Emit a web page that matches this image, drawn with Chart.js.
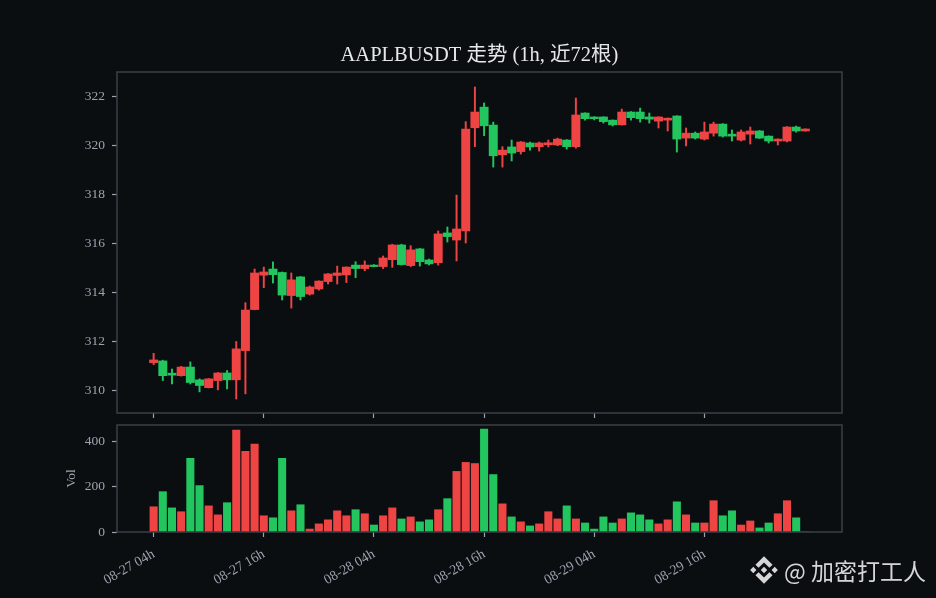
<!DOCTYPE html>
<html>
<head>
<meta charset="utf-8">
<title>AAPLBUSDT 1h</title>
<script src="https://cdn.jsdelivr.net/npm/chart.js@4.4.1/dist/chart.umd.min.js"></script>
<style>
    body { margin: 0; background: #0b0e11; width: 936px; height: 598px; overflow: hidden; position: relative; }
    #mainBox { position: absolute; left: 0; top: 0; width: 936px; height: 418px; }
    #volBox { position: absolute; left: 0; top: 418px; width: 936px; height: 180px; }
    #mark { position: absolute; left: 750px; top: 553px; height: 34px; display: flex; align-items: center;
            font-family: 'Noto Sans CJK SC', sans-serif; font-size: 23px; color: #d6d6d6; white-space: nowrap; }
    #mark svg { width: 28px; height: 28px; margin-right: 6px; }
</style>
</head>
<body>
<div id="mainBox"><canvas id="mainChart"></canvas></div>
<div id="volBox"><canvas id="volChart"></canvas></div>
<div id="mark">
    <svg viewBox="0 0 126 126"><path fill="#d6d6d6" d="M38.7 53.2L63 28.9l24.3 24.3 14.1-14.1L63 0.7 24.6 39.1zM0.7 63l14.1-14.1L28.9 63 14.8 77.1zM38.7 72.8L63 97.1l24.3-24.3 14.1 14.1L63 125.3 24.6 86.9zM97.1 63l14.1-14.1L125.3 63l-14.1 14.1zM77.3 63L63 48.7 48.7 63 63 77.3z"/></svg>
    <span>@ 加密打工人</span>
</div>
<script>
// 1h candles, first one is 08-27 04h
const opens = [311.15, 311.22, 310.72, 310.62, 310.97, 310.45, 310.13, 310.42, 310.73, 310.45,
    311.64, 313.31, 314.71, 314.96, 314.82, 313.88, 314.64, 313.94, 314.15, 314.45,
    314.70, 314.72, 315.12, 314.98, 315.12, 315.06, 315.34, 315.94, 315.10, 315.78,
    315.33, 315.22, 316.43, 316.14, 316.51, 320.71, 321.55, 320.82, 319.61, 319.93,
    319.74, 320.09, 319.94, 320.02, 320.01, 320.21, 319.94, 321.31, 321.15, 321.15,
    321.02, 320.83, 321.35, 321.35, 321.15, 320.98, 321.02, 321.19, 320.29, 320.49,
    320.25, 320.49, 320.86, 320.45, 320.21, 320.45, 320.58, 320.37, 320.17, 320.17,
    320.74, 320.58];
const highs = [311.53, 311.25, 310.89, 311.00, 311.18, 310.49, 310.50, 310.75, 310.83, 312.01,
    313.59, 314.96, 315.04, 315.25, 314.84, 314.80, 314.66, 314.27, 314.48, 314.78,
    315.08, 315.05, 315.26, 315.29, 315.14, 315.49, 315.97, 315.97, 315.91, 315.80,
    315.37, 316.51, 316.67, 317.97, 320.96, 322.37, 321.72, 320.94, 319.94, 320.21,
    320.15, 320.13, 320.13, 320.21, 320.29, 320.23, 321.92, 321.32, 321.16, 321.16,
    321.03, 321.47, 321.37, 321.51, 321.31, 321.16, 321.11, 321.20, 320.70, 320.54,
    320.94, 320.94, 320.88, 320.62, 320.62, 320.74, 320.60, 320.38, 320.26, 320.76,
    320.78, 320.67];
const lows = [311.07, 310.42, 310.28, 310.60, 310.28, 309.96, 310.12, 310.04, 310.08, 309.67,
    309.88, 313.30, 314.20, 314.39, 313.70, 313.37, 313.70, 313.90, 314.10, 314.35,
    314.35, 314.41, 314.61, 314.89, 315.05, 314.98, 315.03, 315.12, 315.06, 315.08,
    315.13, 315.12, 316.06, 315.29, 316.02, 319.94, 320.39, 319.11, 319.11, 319.36,
    319.64, 319.80, 319.76, 319.93, 319.98, 319.84, 319.88, 321.02, 321.03, 320.90,
    320.78, 320.82, 321.02, 320.94, 320.90, 320.70, 320.58, 319.72, 319.97, 320.25,
    320.21, 320.37, 320.33, 320.17, 320.17, 320.05, 320.27, 320.09, 320.01, 320.13,
    320.53, 320.57];
const closes = [311.26, 310.62, 310.64, 310.97, 310.34, 310.22, 310.49, 310.73, 310.45, 311.71,
    313.29, 314.80, 314.84, 314.73, 313.90, 314.52, 313.84, 314.23, 314.47, 314.76,
    314.80, 315.04, 314.98, 315.12, 315.06, 315.41, 315.94, 315.14, 315.74, 315.26,
    315.17, 316.39, 316.28, 316.59, 320.66, 321.35, 320.79, 319.57, 319.80, 319.68,
    320.13, 319.93, 320.09, 320.10, 320.25, 319.94, 321.23, 321.08, 321.08, 320.96,
    320.83, 321.35, 321.12, 321.08, 321.06, 321.15, 321.10, 320.25, 320.49, 320.29,
    320.54, 320.86, 320.37, 320.37, 320.54, 320.58, 320.29, 320.17, 320.25, 320.74,
    320.58, 320.66];
const volumes = [112, 179, 107, 90, 327, 206, 116, 76, 130, 452,
    358, 390, 72, 63, 327, 94, 121, 13, 36, 54,
    94, 72, 99, 81, 31, 72, 107, 58, 67, 45,
    54, 99, 148, 269, 309, 304, 457, 255, 125, 67,
    45, 27, 36, 90, 58, 116, 58, 40, 13, 67,
    40, 58, 85, 76, 54, 36, 54, 134, 76, 40,
    40, 139, 72, 94, 31, 49, 18, 40, 81, 139,
    63, 0];

const xTickPos = [0, 12, 24, 36, 48, 60];
const xTickLabels = ['08-27 04h', '08-27 16h', '08-28 04h', '08-28 16h', '08-29 04h', '08-29 16h'];
const priceTicks = [310, 312, 314, 316, 318, 320, 322];
const volTicks = [0, 200, 400];
const chartTitle = 'AAPLBUSDT 走势 (1h, 近72根)';

const upColor = '#ef4444';
const downColor = '#22c55e';
const tickColor = '#9ca3af';
const frameColor = '#3b4048';

Chart.defaults.font.family = "'Liberation Serif', 'Noto Sans CJK SC', serif";
Chart.defaults.color = tickColor;

const idx = opens.map((_, i) => i);
const colors = idx.map(i => closes[i] >= opens[i] ? upColor : downColor);

// box around the plot area, like a matplotlib axes frame
const frame = {
    id: 'frame',
    afterDraw(chart) {
        const { ctx, chartArea: a } = chart;
        ctx.save();
        ctx.strokeStyle = frameColor;
        ctx.lineWidth = 1.5;
        ctx.strokeRect(a.left, a.top, a.right - a.left, a.bottom - a.top);
        ctx.restore();
    }
};

const xScale = (extra) => Object.assign({
    type: 'linear',
    min: -3.99,
    max: 74.99,
    offset: false,
    border: { display: false },
    grid: { offset: false, drawOnChartArea: false, drawTicks: true, tickLength: 5, tickColor: tickColor, tickWidth: 1.2 },
    afterBuildTicks: s => { s.ticks = xTickPos.map(v => ({ value: v })); },
}, extra);

// fixed width for the value axis, and no extra room for half labels
const fitY = s => { s.width = 117; s.paddingTop = 0; s.paddingBottom = 0; };

new Chart(document.getElementById('mainChart'), {
    type: 'bar',
    data: {
        datasets: [
            {
                label: 'wick',
                data: idx.map(i => ({ x: i, y: [lows[i], highs[i]] })),
                backgroundColor: colors,
                barThickness: 1.3,
                grouped: false,
                order: 2,
            },
            {
                label: 'body',
                data: idx.map(i => ({ x: i, y: [opens[i], closes[i]] })),
                backgroundColor: colors,
                barThickness: 8.3,
                minBarLength: 1.5,
                grouped: false,
                order: 1,
            },
        ],
    },
    options: {
        responsive: true,
        maintainAspectRatio: false,
        animation: false,
        layout: { padding: { left: 0, right: 94, top: 0, bottom: 0 } },
        plugins: {
            legend: { display: false },
            tooltip: { enabled: false },
            title: {
                display: true,
                text: chartTitle,
                fullSize: false,
                color: '#e5e7eb',
                font: { size: 20.5, weight: 'normal' },
                padding: { top: 43, bottom: 4.4 },
            },
        },
        scales: {
            x: xScale({ ticks: { display: false } }),
            y: {
                min: 309.1,
                max: 322.98,
                border: { display: false },
                grid: { drawOnChartArea: false, tickLength: 5, tickColor: tickColor, tickWidth: 1.2 },
                ticks: { font: { size: 13.5 }, padding: 7 },
                afterBuildTicks: s => { s.ticks = priceTicks.map(v => ({ value: v })); },
                afterFit: fitY,
            },
        },
    },
    plugins: [frame],
});

new Chart(document.getElementById('volChart'), {
    type: 'bar',
    data: {
        datasets: [{
            label: 'Vol',
            data: idx.map(i => ({ x: i, y: volumes[i] })),
            backgroundColor: colors,
            barThickness: 7.4,
        }],
    },
    options: {
        responsive: true,
        maintainAspectRatio: false,
        animation: false,
        layout: { padding: { left: 0, right: 94, top: 7, bottom: 0 } },
        plugins: { legend: { display: false }, tooltip: { enabled: false } },
        scales: {
            x: xScale({
                ticks: {
                    font: { size: 13.8 },
                    minRotation: 30,
                    maxRotation: 30,
                    padding: 9,
                    callback: v => xTickLabels[xTickPos.indexOf(v)],
                },
                afterFit: s => { s.height = 66; },
            }),
            y: {
                min: 0,
                max: 475,
                border: { display: false },
                grid: { drawOnChartArea: false, tickLength: 5, tickColor: tickColor, tickWidth: 1.2 },
                ticks: { font: { size: 13.5 }, padding: 7 },
                title: { display: true, text: 'Vol', font: { size: 13.5 }, color: tickColor, padding: { top: 63, bottom: 0 } },
                afterBuildTicks: s => { s.ticks = volTicks.map(v => ({ value: v })); },
                afterFit: fitY,
            },
        },
    },
    plugins: [frame],
});
</script>
</body>
</html>
